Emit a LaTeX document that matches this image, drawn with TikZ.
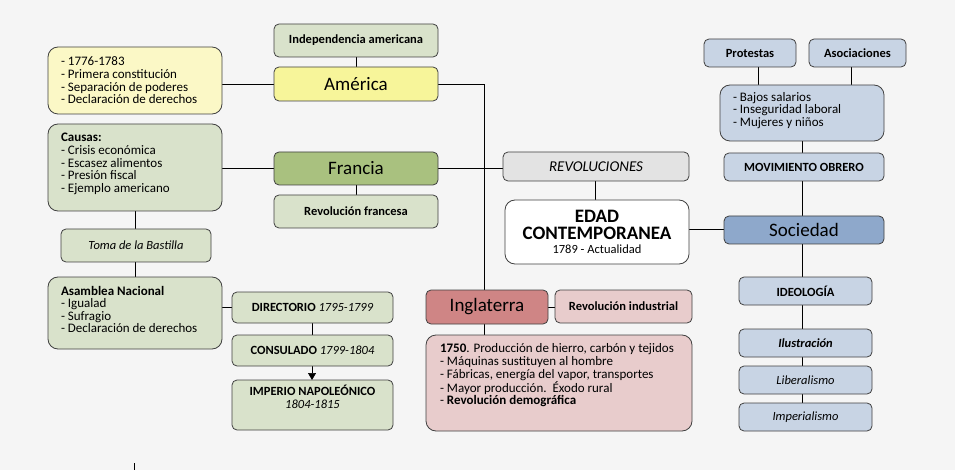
\documentclass[tikz,border=0pt]{standalone}
\usepackage{fontspec}
\setmainfont{Carlito}
\usetikzlibrary{arrows.meta}
\definecolor{bg}{HTML}{F5F5F5}
\definecolor{yel}{HTML}{F7F59A}
\definecolor{lyel}{HTML}{FBF8C6}
\definecolor{lgr}{HTML}{D9E2CB}
\definecolor{gr}{HTML}{A9C17F}
\definecolor{gry}{HTML}{E3E3E3}
\definecolor{lbl}{HTML}{C8D4E4}
\definecolor{bl}{HTML}{8EA8CB}
\definecolor{rd}{HTML}{CF8585}
\definecolor{lrd}{HTML}{E8CCCC}
\tikzset{
 bx/.style={draw=black!75, line width=0.8pt, rounded corners=5pt, inner sep=0pt, font=\fontsize{12.5}{13}\selectfont, align=center},
 lst/.style={bx, rounded corners=10pt, align=left, font=\fontsize{13}{12.6}\selectfont},
 ln/.style={line width=0.7pt, black}
}
\newcommand{\bxat}[8]{% name, x1,y1,x2,y2, style, fill, text
 \node[#6, fill=#7, minimum width={(#4-#2)*1pt}, minimum height={(#5-#3)*1pt}] (#1) at ({(#2+#4)/2},{(#3+#5)/2}) {#8};}
\begin{document}
\begin{tikzpicture}[x=1pt,y=-1pt]
\fill[bg] (0,0) rectangle (955,470);
\useasboundingbox (0,0) rectangle (955,470);
% connectors first
\draw[ln] (48,84) -- (274,84);
\draw[ln] (356,40) -- (356,84);
\draw[ln] (438,84) -- (484,84) -- (484,300);
\draw[ln] (135,168) -- (503,168);
\draw[ln] (356,168) -- (356,210);
\draw[ln] (135,168) -- (135,300);
\draw[ln] (222,307) -- (312,307) -- (312,350);
\draw[ln,-{Triangle[length=7pt,width=8pt]}] (312,350) -- (312,380);
\draw[ln] (595,166) -- (595,230);
\draw[ln] (600,229) -- (800,229);
\draw[ln] (758,53) -- (758,113);
\draw[ln] (851,53) -- (851,113);
\draw[ln] (802,113) -- (802,417);
\draw[ln] (487,307) -- (620,307);
\draw[ln] (484,307) -- (484,380);
\draw[ln] (134,463) -- (134,470);
% boxes
\bxat{ind}{274}{24}{438}{57}{bx}{lgr}{\textbf{Independencia americana}}
\bxat{am}{274}{67}{438}{101}{bx}{yel}{\fontsize{19}{20}\selectfont Am\'erica}
\bxat{aml}{48}{47}{222}{114}{lst}{lyel}{\parbox{148pt}{- 1776-1783\\- Primera constituci\'on\\- Separaci\'on de poderes\\- Declaraci\'on de derechos}}
\bxat{cau}{48}{124}{222}{211}{lst}{lgr}{\parbox{148pt}{\textbf{Causas:}\\- Crisis econ\'omica\\- Escasez alimentos\\- Presi\'on fiscal\\- Ejemplo americano}\\[6pt]}
\bxat{fr}{274}{152}{438}{185}{bx}{gr}{\fontsize{19}{20}\selectfont Francia}
\bxat{rfr}{274}{195}{438}{228}{bx}{lgr}{\textbf{Revoluci\'on francesa}}
\bxat{toma}{61}{229}{211}{262}{bx}{lgr}{\textit{Toma de la Bastilla}}
\bxat{asa}{48}{277}{222}{349}{lst}{lgr}{\parbox{148pt}{\textbf{Asamblea Nacional}\\- Igualad\\- Sufragio\\- Declaraci\'on de derechos}\\[6pt]}
\bxat{dir}{232}{292}{393}{323}{bx}{lgr}{\textbf{DIRECTORIO} \textit{1795-1799}}
\bxat{con}{232}{335}{393}{366}{bx}{lgr}{\textbf{CONSULADO} \textit{1799-1804}}
\bxat{imp}{232}{380}{393}{430}{bx}{lgr}{\textbf{IMPERIO NAPOLE\'ONICO}\\\textit{1804-1815}\\[4pt]}
\bxat{rev}{503}{152}{689}{181}{bx}{gry}{\fontsize{15}{16}\selectfont\textit{REVOLUCIONES}}
\bxat{edad}{505}{200}{689}{264}{lst}{white}{\parbox{180pt}{\centering\fontsize{19}{17}\selectfont\textbf{EDAD}\\\textbf{CONTEMPORANEA}\par\vspace{1pt}\fontsize{12.5}{13}\selectfont 1789 - Actualidad}}
\bxat{pro}{704}{39}{796}{67}{bx}{lbl}{\textbf{Protestas}}
\bxat{aso}{809}{39}{906}{67}{bx}{lbl}{\textbf{Asociaciones}}
\bxat{bl}{720}{85}{884}{141}{lst}{lbl}{\parbox{138pt}{- Bajos salarios\\- Inseguridad laboral\\- Mujeres y ni\~nos}\\[4pt]}
\bxat{mov}{724}{153}{884}{181}{bx}{lbl}{\textbf{MOVIMIENTO OBRERO}}
\bxat{soc}{724}{216}{884}{244}{bx}{bl}{\fontsize{19}{20}\selectfont Sociedad}
\bxat{ide}{739}{277}{872}{305}{bx}{lbl}{\textbf{IDEOLOG\'IA}}
\bxat{ilu}{739}{329}{872}{357}{bx}{lbl}{\textbf{\textit{Ilustraci\'on}}}
\bxat{lib}{739}{366}{872}{394}{bx}{lbl}{\textit{Liberalismo}}
\bxat{impe}{739}{403}{872}{431}{bx}{lbl}{\textit{Imperialismo}}
\bxat{ing}{426}{290}{548}{324}{bx}{rd}{\fontsize{19}{20}\selectfont Inglaterra}
\bxat{rin}{555}{290}{692}{323}{bx}{lrd}{\textbf{Revoluci\'on industrial}}
\bxat{inl}{426}{335}{692}{431}{lst}{lrd}{\parbox{238pt}{\textbf{1750}. Producci\'on de hierro, carb\'on y tejidos\\- M\'aquinas sustituyen al hombre\\- F\'abricas, energ\'ia del vapor, transportes\\- Mayor producci\'on.\ \ \'Exodo rural\\- \textbf{Revoluci\'on demogr\'afica}}\\[14pt]}
\end{tikzpicture}
\end{document}
